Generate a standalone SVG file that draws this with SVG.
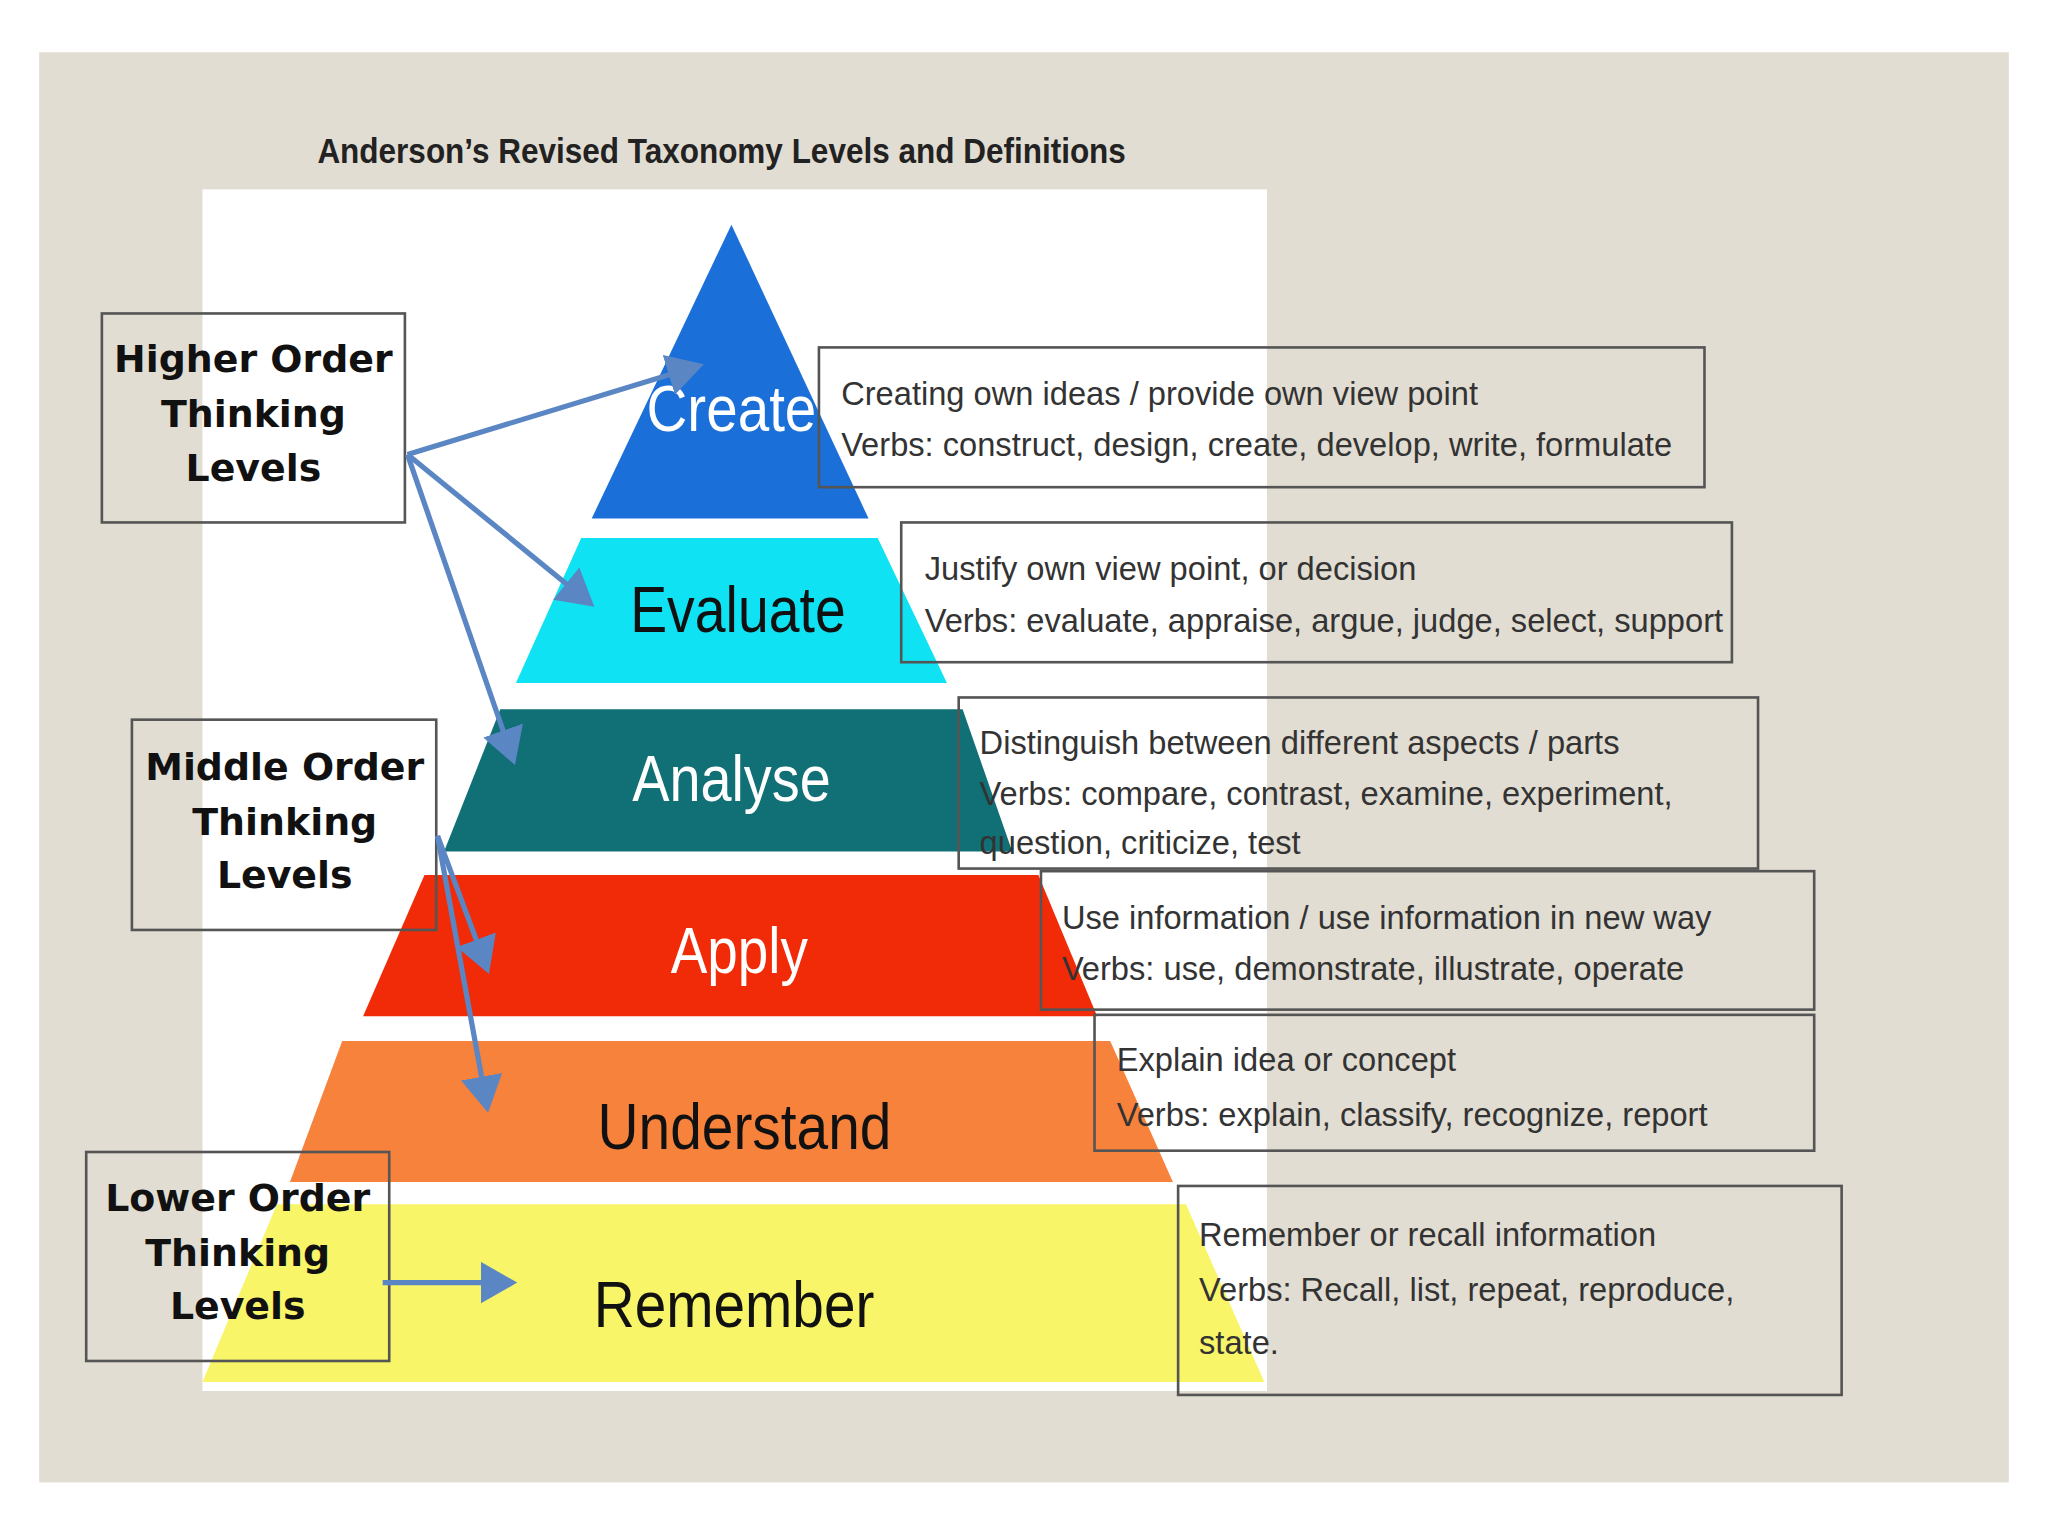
<svg xmlns="http://www.w3.org/2000/svg" width="2048" height="1536" viewBox="0 0 2048 1536">
<style>
.box{fill:none;stroke:#555;stroke-width:2}
.ord{font-family:"DejaVu Sans",sans-serif;font-weight:bold;font-size:29px;fill:#111;text-anchor:middle}
.def{font-family:"Liberation Sans",sans-serif;font-size:25px;fill:#333}
.lvl{font-family:"Liberation Sans",sans-serif;font-size:50px;text-anchor:middle}
.arr{stroke:#5b86c4;stroke-width:4;fill:none;marker-end:url(#ah)}
</style>
<defs>
<marker id="ah" markerWidth="8" markerHeight="8" refX="6" refY="4" orient="auto" markerUnits="strokeWidth">
<path d="M0,0 L7,4 L0,8 Z" fill="#5b86c4"/>
</marker>
</defs>
<rect width="2048" height="1536" fill="#fff"/>
<g transform="scale(1.30612)">
<rect x="30" y="40" width="1508" height="1095" fill="#e2ddd2"/>
<rect x="155" y="145" width="815" height="920" fill="#fff"/>
<text x="243" y="125" font-family="Liberation Sans,sans-serif" font-weight="bold" font-size="27" fill="#222" textLength="619" lengthAdjust="spacingAndGlyphs">Anderson’s Revised Taxonomy Levels and Definitions</text>
<g id="create"><polygon points="560,172 453,397 665,397" fill="#1b6fd9"/><text class="lvl" x="560" y="330" fill="#fff" textLength="130" lengthAdjust="spacingAndGlyphs">Create</text></g>
<g id="evaluate"><polygon points="445,412 672,412 725,523 395,523" fill="#0fe3f3"/><text class="lvl" x="565" y="484" fill="#111" textLength="165" lengthAdjust="spacingAndGlyphs">Evaluate</text></g>
<g id="analyse"><polygon points="383,543 737,543 775,652 340,652" fill="#107076"/><text class="lvl" x="560" y="613" fill="#fff" textLength="152" lengthAdjust="spacingAndGlyphs">Analyse</text></g>
<g id="apply"><polygon points="325,670 795,670 840,778 278,778" fill="#f12a08"/><text class="lvl" x="566" y="745" fill="#fff" textLength="105" lengthAdjust="spacingAndGlyphs">Apply</text></g>
<g id="understand"><polygon points="262,797 850,797 898,905 222,905" fill="#f7823c"/><text class="lvl" x="570" y="880" fill="#111" textLength="225" lengthAdjust="spacingAndGlyphs">Understand</text></g>
<g id="remember"><polygon points="212,922 908,922 968,1058 155,1058" fill="#f8f568"/><text class="lvl" x="562" y="1016" fill="#111" textLength="215" lengthAdjust="spacingAndGlyphs">Remember</text></g>
<g id="higher"><rect class="box" x="78" y="240" width="232" height="160"/><text class="ord" x="194" y="285">Higher Order</text><text class="ord" x="194" y="327">Thinking</text><text class="ord" x="194" y="368">Levels</text></g>
<g id="middle"><rect class="box" x="101" y="551" width="233" height="161"/><text class="ord" x="218" y="597">Middle Order</text><text class="ord" x="218" y="639">Thinking</text><text class="ord" x="218" y="680">Levels</text></g>
<g id="lower"><rect class="box" x="66" y="882" width="232" height="160"/><text class="ord" x="182" y="927">Lower Order</text><text class="ord" x="182" y="969">Thinking</text><text class="ord" x="182" y="1010">Levels</text></g>
<g id="d1"><rect class="box" x="627" y="266" width="678" height="107"/><text class="def" x="644" y="310">Creating own ideas / provide own view point</text><text class="def" x="644" y="349">Verbs: construct, design, create, develop, write, formulate</text></g>
<g id="d2"><rect class="box" x="690" y="400" width="636" height="107"/><text class="def" x="708" y="444">Justify own view point, or decision</text><text class="def" x="708" y="484">Verbs: evaluate, appraise, argue, judge, select, support</text></g>
<g id="d3"><rect class="box" x="734" y="534" width="612" height="131"/><text class="def" x="750" y="577">Distinguish between different aspects / parts</text><text class="def" x="750" y="616">Verbs: compare, contrast, examine, experiment,</text><text class="def" x="750" y="654">question, criticize, test</text></g>
<g id="d4"><rect class="box" x="797" y="667" width="592" height="106"/><text class="def" x="813" y="711">Use information / use information in new way</text><text class="def" x="813" y="750">Verbs: use, demonstrate, illustrate, operate</text></g>
<g id="d5"><rect class="box" x="838" y="777" width="551" height="104"/><text class="def" x="855" y="820">Explain idea or concept</text><text class="def" x="855" y="862">Verbs: explain, classify, recognize, report</text></g>
<g id="d6"><rect class="box" x="902" y="908" width="508" height="160"/><text class="def" x="918" y="954">Remember or recall information</text><text class="def" x="918" y="996">Verbs: Recall, list, repeat, reproduce,</text><text class="def" x="918" y="1037">state.</text></g>
<g id="connectors">
<path class="arr" d="M312,348 L535,280"/>
<path class="arr" d="M312,348 L452,462"/>
<path class="arr" d="M312,348 L393,582"/>
<path class="arr" d="M335,640 L373,742"/>
<path class="arr" d="M335,640 L373,848"/>
<path class="arr" d="M293,982 L392,982"/>
</g>
</g>
</svg>
